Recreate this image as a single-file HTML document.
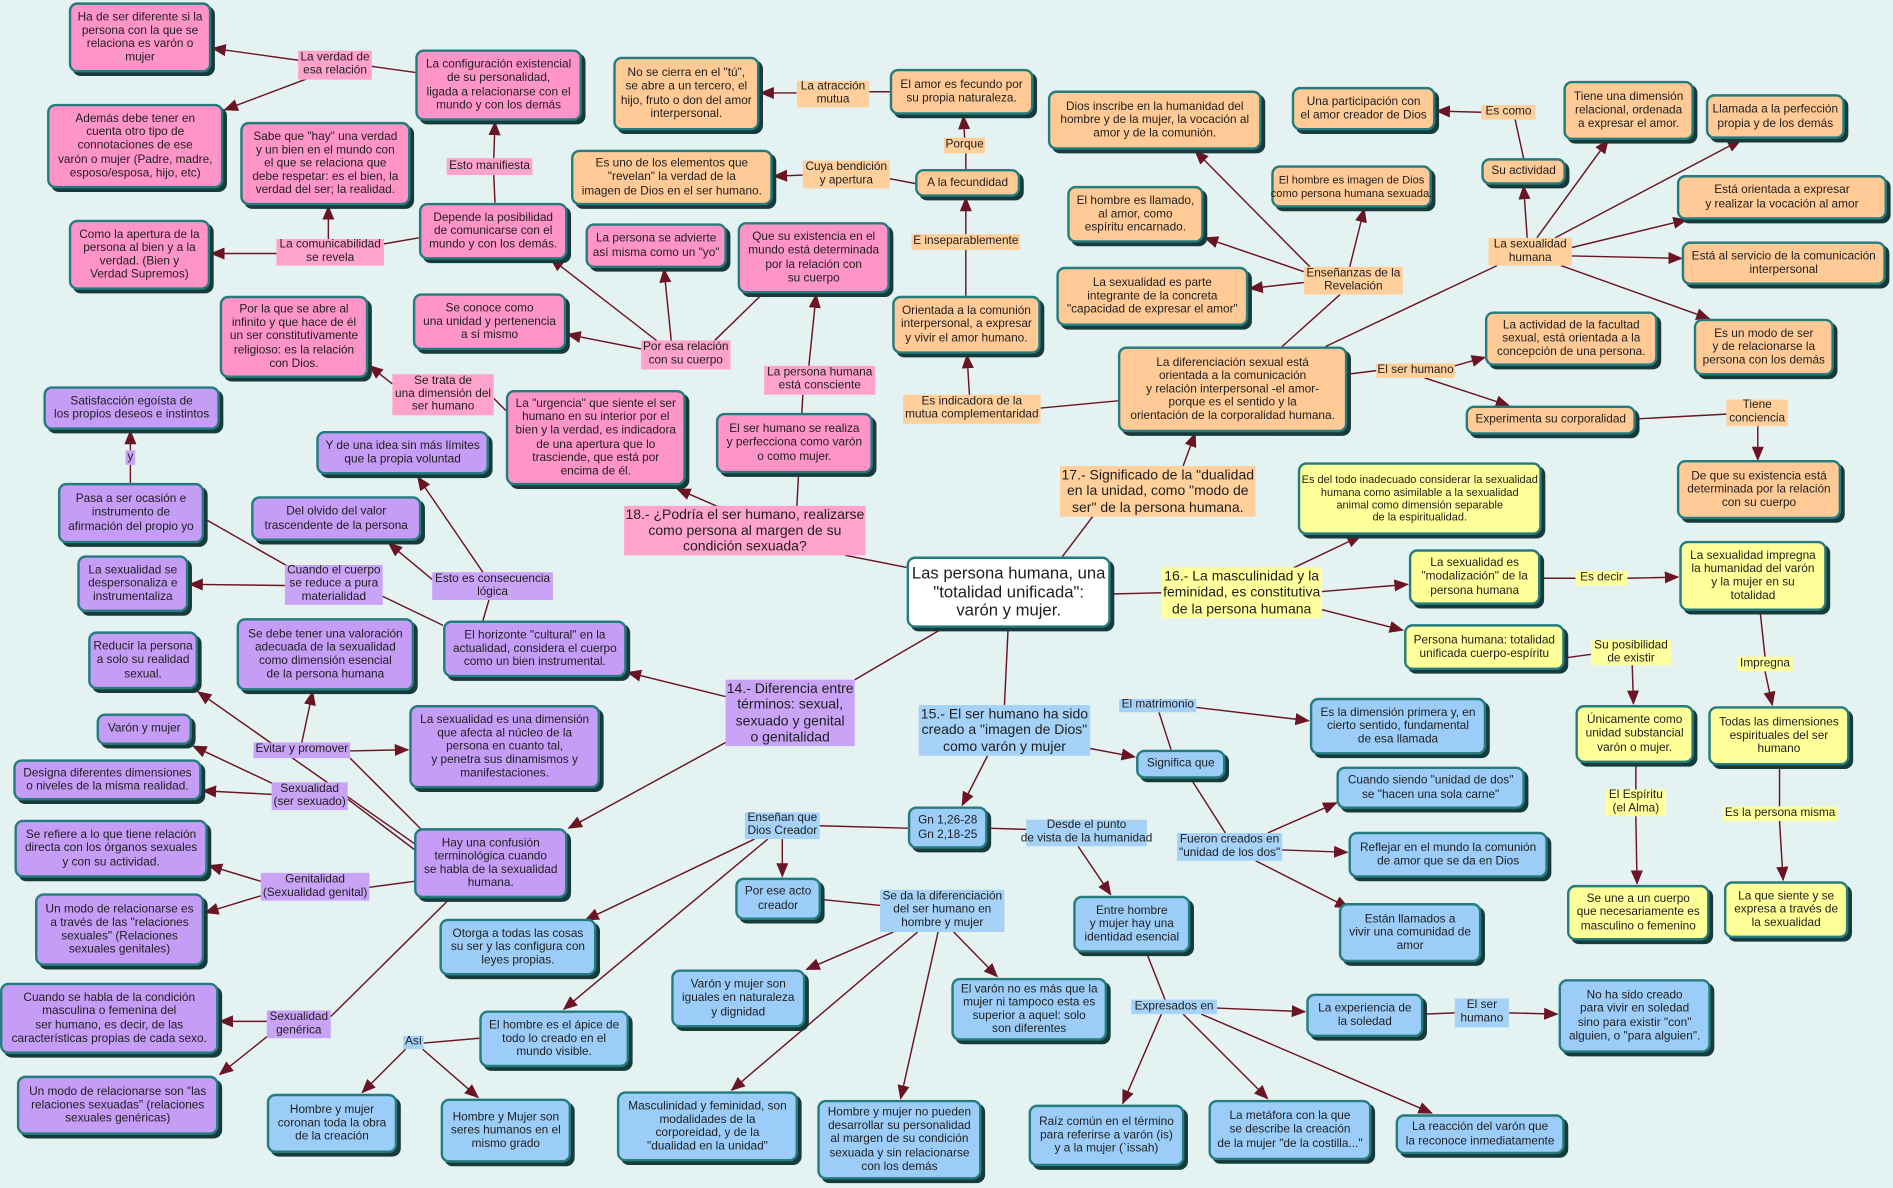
<!DOCTYPE html>
<html><head><meta charset="utf-8"><style>
html,body{margin:0;padding:0;width:1893px;height:1188px;overflow:hidden;background:#e4f3f1;}
#w{position:absolute;left:0;top:0;width:1568px;height:984px;transform:scale(1.20727);transform-origin:0 0;font-family:"Liberation Sans",Arial,sans-serif;}
svg{position:absolute;left:0;top:0;}
.n,.l{position:absolute;box-sizing:border-box;display:flex;align-items:center;justify-content:center;text-align:center;color:#1e1e1e;white-space:nowrap;}
.n{border:2px solid #247c7e;border-radius:7px;box-shadow:3px 3px 0 #173a3a;font-size:9.8px;line-height:1.13;padding:0;}
.l{font-size:9.8px;line-height:1.1;}
.big{font-size:11.6px;line-height:1.13;}
.p{background:#ff94c8}.lp{background:#ffa3cd}
.o{background:#ffca96}.lo{background:#ffcf9c}
.y{background:#ffff9a}.ly{background:#ffff9e}
.u{background:#c59cf6}.lu{background:#c9a3f6}
.b{background:#9ccdf8}.lb{background:#a6d2f8}
</style></head><body><div id="w">
<svg width="1568" height="984" viewBox="0 0 1568 984">
<defs><marker id="a" markerWidth="12" markerHeight="10" refX="11" refY="5" orient="auto" markerUnits="userSpaceOnUse"><path d="M0,0 L12,5 L0,10 Z" fill="#6b1424"/></marker></defs>
<g stroke="#6b1424" stroke-width="1.2" fill="none">
<line x1="344" y1="60" x2="308" y2="55"/>
<line x1="248" y1="50" x2="176" y2="40" marker-end="url(#a)"/>
<line x1="255" y1="65" x2="186" y2="91" marker-end="url(#a)"/>
<line x1="410" y1="168" x2="409" y2="145"/>
<line x1="409" y1="131" x2="410" y2="101" marker-end="url(#a)"/>
<line x1="347" y1="197" x2="318" y2="202"/>
<line x1="272" y1="199" x2="272" y2="171" marker-end="url(#a)"/>
<line x1="229" y1="210" x2="175" y2="210" marker-end="url(#a)"/>
<line x1="545" y1="283" x2="456" y2="214" marker-end="url(#a)"/>
<line x1="531" y1="289" x2="470" y2="277" marker-end="url(#a)"/>
<line x1="556" y1="282" x2="550" y2="223" marker-end="url(#a)"/>
<line x1="632" y1="243" x2="592" y2="282"/>
<line x1="660" y1="420" x2="665" y2="327"/>
<line x1="670" y1="303" x2="676" y2="244" marker-end="url(#a)"/>
<line x1="600" y1="422" x2="561" y2="405" marker-end="url(#a)"/>
<line x1="419" y1="340" x2="409" y2="330"/>
<line x1="325" y1="318" x2="306" y2="303" marker-end="url(#a)"/>
<line x1="751" y1="470" x2="700" y2="460"/>
<line x1="880" y1="461" x2="905" y2="428"/>
<line x1="980" y1="386" x2="990" y2="359" marker-end="url(#a)"/>
<line x1="926" y1="332" x2="862" y2="338"/>
<line x1="803" y1="327" x2="801" y2="294" marker-end="url(#a)"/>
<line x1="800" y1="245" x2="800" y2="207"/>
<line x1="800" y1="194" x2="800" y2="164" marker-end="url(#a)"/>
<line x1="800" y1="140" x2="800" y2="127"/>
<line x1="799" y1="114" x2="798" y2="96" marker-end="url(#a)"/>
<line x1="758" y1="152" x2="737" y2="148"/>
<line x1="665" y1="145" x2="641" y2="146" marker-end="url(#a)"/>
<line x1="737" y1="76" x2="720" y2="76"/>
<line x1="660" y1="77" x2="630" y2="77" marker-end="url(#a)"/>
<line x1="1062" y1="287" x2="1110" y2="244"/>
<line x1="1085" y1="221" x2="990" y2="125" marker-end="url(#a)"/>
<line x1="1080" y1="225" x2="998" y2="197" marker-end="url(#a)"/>
<line x1="1118" y1="221" x2="1130" y2="173" marker-end="url(#a)"/>
<line x1="1080" y1="234" x2="1035" y2="239" marker-end="url(#a)"/>
<line x1="1098" y1="287" x2="1240" y2="220"/>
<line x1="1265" y1="197" x2="1262" y2="154" marker-end="url(#a)"/>
<line x1="1262" y1="131" x2="1255" y2="99"/>
<line x1="1227" y1="93" x2="1190" y2="92" marker-end="url(#a)"/>
<line x1="1273" y1="197" x2="1332" y2="116" marker-end="url(#a)"/>
<line x1="1288" y1="197" x2="1442" y2="116" marker-end="url(#a)"/>
<line x1="1302" y1="205" x2="1397" y2="182" marker-end="url(#a)"/>
<line x1="1302" y1="212" x2="1393" y2="214" marker-end="url(#a)"/>
<line x1="1293" y1="220" x2="1416" y2="264" marker-end="url(#a)"/>
<line x1="1116" y1="310" x2="1140" y2="307"/>
<line x1="1205" y1="303" x2="1230" y2="296" marker-end="url(#a)"/>
<line x1="1180" y1="313" x2="1250" y2="336" marker-end="url(#a)"/>
<line x1="1355" y1="347" x2="1430" y2="343"/>
<line x1="1456" y1="353" x2="1456" y2="381" marker-end="url(#a)"/>
<line x1="920" y1="492" x2="962" y2="491"/>
<line x1="1068" y1="472" x2="1127" y2="444" marker-end="url(#a)"/>
<line x1="1095" y1="490" x2="1166" y2="484" marker-end="url(#a)"/>
<line x1="1095" y1="505" x2="1162" y2="522" marker-end="url(#a)"/>
<line x1="1276" y1="479" x2="1305" y2="479"/>
<line x1="1348" y1="479" x2="1390" y2="478" marker-end="url(#a)"/>
<line x1="1296" y1="545" x2="1318" y2="542"/>
<line x1="1352" y1="551" x2="1353" y2="583" marker-end="url(#a)"/>
<line x1="1458" y1="507" x2="1462" y2="544"/>
<line x1="1462" y1="556" x2="1468" y2="584" marker-end="url(#a)"/>
<line x1="1355" y1="633" x2="1355" y2="654"/>
<line x1="1355" y1="676" x2="1356" y2="732" marker-end="url(#a)"/>
<line x1="1474" y1="635" x2="1474" y2="668"/>
<line x1="1474" y1="680" x2="1477" y2="729" marker-end="url(#a)"/>
<line x1="780" y1="521" x2="708" y2="563"/>
<line x1="601" y1="577" x2="520" y2="557" marker-end="url(#a)"/>
<line x1="601" y1="615" x2="471" y2="686" marker-end="url(#a)"/>
<line x1="400" y1="514" x2="405" y2="497"/>
<line x1="400" y1="474" x2="346" y2="395" marker-end="url(#a)"/>
<line x1="358" y1="480" x2="322" y2="450" marker-end="url(#a)"/>
<line x1="367" y1="518" x2="317" y2="494"/>
<line x1="236" y1="485" x2="157" y2="484" marker-end="url(#a)"/>
<line x1="240" y1="470" x2="170" y2="430"/>
<line x1="108" y1="400" x2="108" y2="385"/>
<line x1="108" y1="373" x2="108" y2="357" marker-end="url(#a)"/>
<line x1="350" y1="688" x2="290" y2="628"/>
<line x1="250" y1="615" x2="259" y2="573" marker-end="url(#a)"/>
<line x1="290" y1="622" x2="338" y2="621" marker-end="url(#a)"/>
<line x1="345" y1="700" x2="164" y2="573" marker-end="url(#a)"/>
<line x1="345" y1="705" x2="288" y2="662"/>
<line x1="228" y1="650" x2="160" y2="618" marker-end="url(#a)"/>
<line x1="225" y1="658" x2="168" y2="655" marker-end="url(#a)"/>
<line x1="343" y1="730" x2="306" y2="735"/>
<line x1="216" y1="730" x2="173" y2="717" marker-end="url(#a)"/>
<line x1="216" y1="742" x2="170" y2="756" marker-end="url(#a)"/>
<line x1="372" y1="745" x2="274" y2="842"/>
<line x1="221" y1="846" x2="182" y2="846" marker-end="url(#a)"/>
<line x1="222" y1="858" x2="182" y2="890" marker-end="url(#a)"/>
<line x1="835" y1="521" x2="832" y2="584"/>
<line x1="818" y1="626" x2="797" y2="667" marker-end="url(#a)"/>
<line x1="903" y1="620" x2="940" y2="627" marker-end="url(#a)"/>
<line x1="970" y1="621" x2="960" y2="590"/>
<line x1="991" y1="586" x2="1084" y2="597" marker-end="url(#a)"/>
<line x1="987" y1="646" x2="1015" y2="690"/>
<line x1="1050" y1="690" x2="1107" y2="665" marker-end="url(#a)"/>
<line x1="1062" y1="704" x2="1116" y2="706" marker-end="url(#a)"/>
<line x1="1040" y1="713" x2="1117" y2="752" marker-end="url(#a)"/>
<line x1="818" y1="686" x2="850" y2="687"/>
<line x1="893" y1="701" x2="920" y2="741" marker-end="url(#a)"/>
<line x1="752" y1="686" x2="679" y2="684"/>
<line x1="648" y1="695" x2="648" y2="726" marker-end="url(#a)"/>
<line x1="625" y1="695" x2="485" y2="762" marker-end="url(#a)"/>
<line x1="636" y1="695" x2="467" y2="836" marker-end="url(#a)"/>
<line x1="680" y1="745" x2="729" y2="750"/>
<line x1="740" y1="772" x2="668" y2="803" marker-end="url(#a)"/>
<line x1="790" y1="772" x2="826" y2="809" marker-end="url(#a)"/>
<line x1="760" y1="772" x2="606" y2="903" marker-end="url(#a)"/>
<line x1="777" y1="772" x2="746" y2="910" marker-end="url(#a)"/>
<line x1="397" y1="860" x2="351" y2="864"/>
<line x1="336" y1="869" x2="300" y2="905" marker-end="url(#a)"/>
<line x1="350" y1="869" x2="396" y2="909" marker-end="url(#a)"/>
<line x1="950" y1="790" x2="965" y2="828"/>
<line x1="1008" y1="835" x2="1081" y2="838" marker-end="url(#a)"/>
<line x1="962" y1="840" x2="930" y2="914" marker-end="url(#a)"/>
<line x1="980" y1="840" x2="1050" y2="910" marker-end="url(#a)"/>
<line x1="995" y1="840" x2="1186" y2="922" marker-end="url(#a)"/>
<line x1="1179" y1="840" x2="1205" y2="839"/>
<line x1="1250" y1="839" x2="1290" y2="840" marker-end="url(#a)"/>
</g></svg>

<div class="n" style="left:751px;top:461px;width:169px;height:59px;background:#fff;font-size:13.8px;line-height:1.15">Las persona humana, una<br>"totalidad unificada":<br>varón y mujer.</div>

<div class="n p" style="left:57px;top:2px;width:118px;height:58px">Ha de ser diferente si la<br>persona con la que se<br>relaciona es varón o<br>mujer</div>
<div class="n p" style="left:39px;top:86px;width:146px;height:70px">Además debe tener en<br>cuenta otro tipo de<br>connotaciones de ese<br>varón o mujer (Padre, madre,<br>esposo/esposa, hijo, etc)</div>
<div class="n p" style="left:344px;top:41px;width:138px;height:59px">La configuración existencial<br>de su personalidad,<br>ligada a relacionarse con el<br>mundo y con los demás</div>
<div class="n p" style="left:199px;top:101px;width:141px;height:69px">Sabe que "hay" una verdad<br>y un bien en el mundo con<br>el que se relaciona que<br>debe respetar: es el bien, la<br>verdad del ser; la realidad.</div>
<div class="n p" style="left:57px;top:182px;width:117px;height:58px">Como la apertura de la<br>persona al bien y a la<br>verdad. (Bien y<br>Verdad Supremos)</div>
<div class="n p" style="left:347px;top:168px;width:123px;height:47px">Depende la posibilidad<br>de comunicarse con el<br>mundo y con los demás.</div>
<div class="n p" style="left:182px;top:245px;width:123px;height:68px">Por la que se abre al<br>infinito y que hace de él<br>un ser constitutivamente<br>religioso: es la relación<br>con Dios.</div>
<div class="n p" style="left:342px;top:243px;width:127px;height:47px">Se conoce como<br>una unidad y pertenencia<br>a sí mismo</div>
<div class="n p" style="left:485px;top:185px;width:117px;height:37px">La persona se advierte<br>así misma como un "yo"</div>
<div class="n p" style="left:611px;top:184px;width:126px;height:59px">Que su existencia en el<br>mundo está determinada<br>por la relación con<br>su cuerpo</div>
<div class="n p" style="left:419px;top:323px;width:149px;height:79px">La "urgencia" que siente el ser<br>humano en su interior por el<br>bien y la verdad, es indicadora<br>de una apertura que lo<br>trasciende, que está por<br>encima de él.</div>
<div class="n p" style="left:593px;top:342px;width:130px;height:50px">El ser humano se realiza<br>y perfecciona como varón<br>o como mujer.</div>
<div class="l lp" style="left:247px;top:42px;width:61px;height:24px">La verdad de<br>esa relación</div>
<div class="l lp" style="left:370px;top:131px;width:71px;height:14px">Esto manifiesta</div>
<div class="l lp" style="left:229px;top:198px;width:89px;height:22px">La comunicabilidad<br>se revela</div>
<div class="l lp" style="left:325px;top:310px;width:84px;height:34px">Se trata de<br>una dimensión del<br>ser humano</div>
<div class="l lp" style="left:531px;top:282px;width:74px;height:24px">Por esa relación<br>con su cuerpo</div>
<div class="l lp" style="left:633px;top:303px;width:92px;height:24px">La persona humana<br>está consciente</div>
<div class="l lp big" style="left:517px;top:419px;width:200px;height:41px">18.- ¿Podría el ser humano, realizarse<br>como persona al margen de su<br>condición sexuada?</div>

<div class="n o" style="left:508px;top:47px;width:121px;height:61px">No se cierra en el "tú",<br>se abre a un tercero, el<br>hijo, fruto o don del amor<br>interpersonal.</div>
<div class="n o" style="left:737px;top:57px;width:119px;height:38px">El amor es fecundo por<br>su propia naturaleza.</div>
<div class="n o" style="left:473px;top:124px;width:167px;height:46px">Es uno de los elementos que<br>"revelan" la verdad de la<br>imagen de Dios en el ser humano.</div>
<div class="n o" style="left:758px;top:140px;width:87px;height:23px">A la fecundidad</div>
<div class="n o" style="left:739px;top:245px;width:123px;height:48px">Orientada a la comunión<br>interpersonal, a expresar<br>y vivir el amor humano.</div>
<div class="n o" style="left:868px;top:75px;width:177px;height:49px">Dios inscribe en la humanidad del<br>hombre y de la mujer, la vocación al<br>amor y de la comunión.</div>
<div class="n o" style="left:884px;top:154px;width:113px;height:47px">El hombre es llamado,<br>al amor, como<br>espíritu encarnado.</div>
<div class="n o" style="left:1053px;top:137px;width:133px;height:35px;font-size:9.2px">El hombre es imagen de Dios<br>como persona humana sexuada.</div>
<div class="n o" style="left:875px;top:221px;width:159px;height:49px">La sexualidad es parte<br>integrante de la concreta<br>"capacidad de expresar el amor"</div>
<div class="n o" style="left:1070px;top:72px;width:119px;height:36px">Una participación con<br>el amor creador de Dios</div>
<div class="n o" style="left:1227px;top:131px;width:70px;height:22px">Su actividad</div>
<div class="n o" style="left:1295px;top:67px;width:108px;height:49px">Tiene una dimensión<br>relacional, ordenada<br>a expresar el amor.</div>
<div class="n o" style="left:1413px;top:78px;width:115px;height:37px">Llamada a la perfección<br>propia y de los demás</div>
<div class="n o" style="left:1389px;top:145px;width:174px;height:37px">Está orientada a expresar<br>y realizar la vocación al amor</div>
<div class="n o" style="left:1393px;top:200px;width:169px;height:36px">Está al servicio de la comunicación<br>interpersonal</div>
<div class="n o" style="left:1230px;top:258px;width:143px;height:45px">La actividad de la facultad<br>sexual, está orientada a la<br>concepción de una persona.</div>
<div class="n o" style="left:1403px;top:264px;width:116px;height:47px">Es un modo de ser<br>y de relacionarse la<br>persona con los demás</div>
<div class="n o" style="left:926px;top:287px;width:190px;height:71px">La diferenciación sexual está<br>orientada a la comunicación<br>y relación interpersonal -el amor-<br>porque es el sentido y la<br>orientación de la corporalidad humana.</div>
<div class="n o" style="left:1214px;top:336px;width:141px;height:24px">Experimenta su corporalidad</div>
<div class="n o" style="left:1389px;top:381px;width:136px;height:49px">De que su existencia está<br>determinada por la relación<br>con su cuerpo</div>
<div class="l lo" style="left:660px;top:67px;width:60px;height:22px">La atracción<br>mutua</div>
<div class="l lo" style="left:665px;top:133px;width:72px;height:23px">Cuya bendición<br>y apertura</div>
<div class="l lo" style="left:782px;top:114px;width:34px;height:13px">Porque</div>
<div class="l lo" style="left:755px;top:194px;width:90px;height:13px">E inseparablemente</div>
<div class="l lo" style="left:748px;top:327px;width:114px;height:24px">Es indicadora de la<br>mutua complementaridad</div>
<div class="l lo" style="left:1080px;top:221px;width:82px;height:23px">Enseñanzas de la<br>Revelación</div>
<div class="l lo" style="left:1227px;top:87px;width:45px;height:12px">Es como</div>
<div class="l lo" style="left:1233px;top:197px;width:69px;height:23px">La sexualidad<br>humana</div>
<div class="l lo" style="left:1140px;top:301px;width:65px;height:12px">El ser humano</div>
<div class="l lo" style="left:1430px;top:331px;width:51px;height:22px">Tiene<br>conciencia</div>
<div class="l lo big" style="left:878px;top:386px;width:162px;height:42px">17.- Significado de la "dualidad<br>en la unidad, como "modo de<br>ser" de la persona humana.</div>

<div class="n y" style="left:1075px;top:383px;width:202px;height:60px;font-size:9.1px">Es del todo inadecuado considerar la sexualidad<br>humana como asimilable a la sexualidad<br>animal como dimensión separable<br>de la espiritualidad.</div>
<div class="n y" style="left:1167px;top:455px;width:109px;height:46px">La sexualidad es<br>"modalización" de la<br>persona humana</div>
<div class="n y" style="left:1391px;top:448px;width:122px;height:58px">La sexualidad impregna<br>la humanidad del varón<br>y la mujer en su<br>totalidad</div>
<div class="n y" style="left:1163px;top:517px;width:133px;height:38px">Persona humana: totalidad<br>unificada cuerpo-espíritu</div>
<div class="n y" style="left:1305px;top:584px;width:98px;height:48px">Únicamente como<br>unidad substancial<br>varón o mujer.</div>
<div class="n y" style="left:1415px;top:585px;width:117px;height:49px">Todas las dimensiones<br>espirituales del ser<br>humano</div>
<div class="n y" style="left:1298px;top:733px;width:118px;height:46px">Se une a un cuerpo<br>que necesariamente es<br>masculino o femenino</div>
<div class="n y" style="left:1428px;top:730px;width:103px;height:47px">La que siente y se<br>expresa a través de<br>la sexualidad</div>
<div class="l ly big" style="left:962px;top:470px;width:133px;height:42px">16.- La masculinidad y la<br>feminidad, es constitutiva<br>de la persona humana</div>
<div class="l ly" style="left:1305px;top:473px;width:43px;height:12px">Es decir</div>
<div class="l ly" style="left:1318px;top:530px;width:66px;height:21px">Su posibilidad<br>de existir</div>
<div class="l ly" style="left:1439px;top:544px;width:46px;height:12px">Impregna</div>
<div class="l ly" style="left:1330px;top:654px;width:50px;height:22px">El Espíritu<br>(el Alma)</div>
<div class="l ly" style="left:1427px;top:668px;width:95px;height:12px">Es la persona misma</div>

<div class="n u" style="left:36px;top:320px;width:146px;height:36px">Satisfacción egoísta de<br>los propios deseos e instintos</div>
<div class="n u" style="left:48px;top:400px;width:121px;height:50px">Pasa a ser ocasión e<br>instrumento de<br>afirmación del propio yo</div>
<div class="n u" style="left:262px;top:357px;width:143px;height:36px">Y de una idea sin más límites<br>que la propia voluntad</div>
<div class="n u" style="left:208px;top:411px;width:141px;height:37px">Del olvido del valor<br>trascendente de la persona</div>
<div class="n u" style="left:64px;top:460px;width:92px;height:47px">La sexualidad se<br>despersonaliza e<br>instrumentaliza</div>
<div class="n u" style="left:196px;top:512px;width:147px;height:60px">Se debe tener una valoración<br>adecuada de la sexualidad<br>como dimensión esencial<br>de la persona humana</div>
<div class="n u" style="left:367px;top:514px;width:152px;height:47px">El horizonte "cultural" en la<br>actualidad, considera el cuerpo<br>como un bien instrumental.</div>
<div class="n u" style="left:73px;top:523px;width:91px;height:48px">Reducir la persona<br>a solo su realidad<br>sexual.</div>
<div class="n u" style="left:80px;top:591px;width:79px;height:26px">Varón y mujer</div>
<div class="n u" style="left:339px;top:584px;width:158px;height:69px">La sexualidad es una dimensión<br>que afecta al núcleo de la<br>persona en cuanto tal,<br>y penetra sus dinamismos y<br>manifestaciones.</div>
<div class="n u" style="left:11px;top:629px;width:156px;height:34px">Designa diferentes dimensiones<br>o niveles de la misma realidad.</div>
<div class="n u" style="left:12px;top:679px;width:160px;height:48px">Se refiere a lo que tiene relación<br>directa con los órganos sexuales<br>y con su actividad.</div>
<div class="n u" style="left:343px;top:686px;width:127px;height:58px">Hay una confusión<br>terminológica cuando<br>se habla de la sexualidad<br>humana.</div>
<div class="n u" style="left:29px;top:740px;width:140px;height:60px">Un modo de relacionarse es<br>a través de las "relaciones<br>sexuales" (Relaciones<br>sexuales genitales)</div>
<div class="n u" style="left:0px;top:814px;width:181px;height:59px">Cuando se habla de la condición<br>masculina o femenina del<br>ser humano, es decir, de las<br>características propias de cada sexo.</div>
<div class="n u" style="left:14px;top:891px;width:167px;height:49px">Un modo de relacionarse son "las<br>relaciones sexuadas" (relaciones<br>sexuales genéricas)</div>
<div class="l lu" style="left:104px;top:373px;width:8px;height:12px">y</div>
<div class="l lu" style="left:236px;top:468px;width:81px;height:33px">Cuando el cuerpo<br>se reduce a pura<br>materialidad</div>
<div class="l lu" style="left:358px;top:474px;width:100px;height:23px">Esto es consecuencia<br>lógica</div>
<div class="l lu" style="left:210px;top:615px;width:80px;height:13px">Evitar y promover</div>
<div class="l lu" style="left:225px;top:648px;width:63px;height:23px">Sexualidad<br>(ser sexuado)</div>
<div class="l lu" style="left:216px;top:723px;width:90px;height:23px">Genitalidad<br>(Sexualidad genital)</div>
<div class="l lu" style="left:221px;top:837px;width:53px;height:23px">Sexualidad<br>genérica</div>
<div class="l lu big" style="left:601px;top:563px;width:107px;height:55px">14.- Diferencia entre<br>términos: sexual,<br>sexuado y genital<br>o genitalidad</div>

<div class="n b" style="left:1085px;top:578px;width:146px;height:47px">Es la dimensión primera y, en<br>cierto sentido, fundamental<br>de esa llamada</div>
<div class="n b" style="left:941px;top:621px;width:74px;height:24px">Significa que</div>
<div class="n b" style="left:1107px;top:635px;width:156px;height:35px">Cuando siendo "unidad de dos"<br>se "hacen una sola carne"</div>
<div class="n b" style="left:1117px;top:689px;width:165px;height:38px">Reflejar en el mundo la comunión<br>de amor que se da en Dios</div>
<div class="n b" style="left:1109px;top:748px;width:118px;height:49px">Están llamados a<br>vivir una comunidad de<br>amor</div>
<div class="n b" style="left:752px;top:668px;width:66px;height:35px">Gn 1,26-28<br>Gn 2,18-25</div>
<div class="n b" style="left:609px;top:727px;width:71px;height:35px">Por ese acto<br>creador</div>
<div class="n b" style="left:364px;top:761px;width:130px;height:47px">Otorga a todas las cosas<br>su ser y las configura con<br>leyes propias.</div>
<div class="n b" style="left:889px;top:742px;width:97px;height:47px">Entre hombre<br>y mujer hay una<br>identidad esencial</div>
<div class="n b" style="left:556px;top:803px;width:111px;height:48px">Varón y mujer son<br>iguales en naturaleza<br>y dignidad</div>
<div class="n b" style="left:788px;top:810px;width:129px;height:52px">El varón no es más que la<br>mujer ni tampoco esta es<br>superior a aquel: solo<br>son diferentes</div>
<div class="n b" style="left:397px;top:837px;width:124px;height:47px">El hombre es el ápice de<br>todo lo creado en el<br>mundo visible.</div>
<div class="n b" style="left:1082px;top:823px;width:97px;height:36px">La experiencia de<br>la soledad</div>
<div class="n b" style="left:1291px;top:811px;width:126px;height:61px">No ha sido creado<br>para vivir en soledad<br>sino para existir "con"<br>alguien, o "para alguien".</div>
<div class="n b" style="left:221px;top:906px;width:108px;height:49px">Hombre y mujer<br>coronan toda la obra<br>de la creación</div>
<div class="n b" style="left:365px;top:910px;width:108px;height:53px">Hombre y Mujer son<br>seres humanos en el<br>mismo grado</div>
<div class="n b" style="left:511px;top:904px;width:150px;height:58px">Masculinidad y feminidad, son<br>modalidades de la<br>corporeidad, y de la<br>"dualidad en la unidad"</div>
<div class="n b" style="left:677px;top:911px;width:136px;height:66px">Hombre y mujer no pueden<br>desarrollar su personalidad<br>al margen de su condición<br>sexuada y sin relacionarse<br>con los demás</div>
<div class="n b" style="left:852px;top:915px;width:129px;height:51px">Raíz común en el término<br>para referirse a varón (is)<br>y a la mujer (`issah)</div>
<div class="n b" style="left:1001px;top:911px;width:135px;height:50px">La metáfora con la que<br>se describe la creación<br>de la mujer "de la costilla..."</div>
<div class="n b" style="left:1156px;top:923px;width:140px;height:33px">La reacción del varón que<br>la reconoce inmediatamente</div>
<div class="l lb" style="left:927px;top:579px;width:64px;height:11px">El matrimonio</div>
<div class="l lb big" style="left:761px;top:584px;width:142px;height:42px">15.- El ser humano ha sido<br>creado a "imagen de Dios"<br>como varón y mujer</div>
<div class="l lb" style="left:617px;top:673px;width:62px;height:22px">Enseñan que<br>Dios Creador</div>
<div class="l lb" style="left:850px;top:679px;width:100px;height:22px">Desde el punto<br>de vista de la humanidad</div>
<div class="l lb" style="left:975px;top:690px;width:87px;height:23px">Fueron creados en<br>"unidad de los dos"</div>
<div class="l lb" style="left:729px;top:737px;width:103px;height:35px">Se da la diferenciación<br>del ser humano en<br>hombre y mujer</div>
<div class="l lb" style="left:334px;top:858px;width:17px;height:11px">Así</div>
<div class="l lb" style="left:937px;top:828px;width:71px;height:12px">Expresados en</div>
<div class="l lb" style="left:1205px;top:827px;width:45px;height:24px">El ser<br>humano</div>
</div></body></html>
